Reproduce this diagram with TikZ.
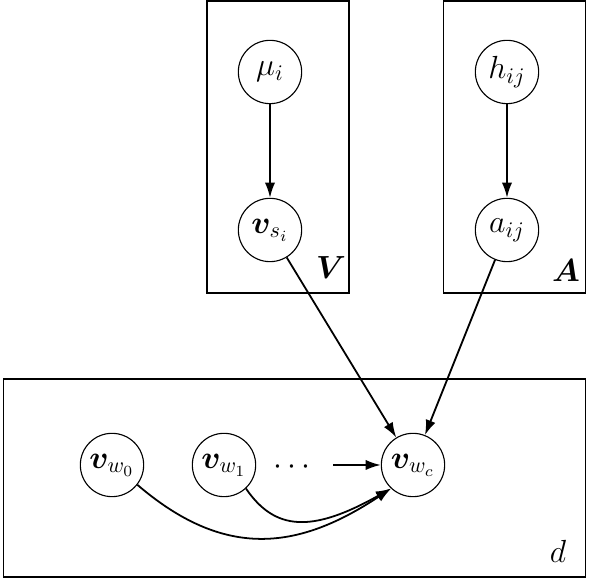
\documentclass[tikz,border=0pt]{standalone}
\usepackage{bm}
\usetikzlibrary{arrows.meta}
\begin{document}
\begin{tikzpicture}[x=0.45pt,y=-0.45pt,
  lbl/.style={font=\fontsize{13.8}{16}\selectfont},
  var/.style={circle,draw,line width=0.5pt,minimum size=28.5pt,inner sep=0pt,lbl},
  plate/.style={draw,line width=0.6pt},
  conn/.style={line width=0.8pt,-{Latex[length=6.8pt,width=4.6pt]}}]
\useasboundingbox (0,0) rectangle (589,579);
\node[plate,minimum width=64pt,minimum height=131.5pt,inner sep=0pt] (pV) at (278,147) {};
\node[plate,minimum width=64pt,minimum height=131.5pt,inner sep=0pt] (pA) at (514.5,147) {};
\node[plate,minimum width=262pt,minimum height=89pt,inner sep=0pt] (pd) at (294.5,478) {};
\node[var] (mu) at (270,72) {$\mu_i$};
\node[var] (vs) at (270,230) {$\bm{v}_{s_i}$};
\node[var] (h) at (507,72) {$h_{ij}$};
\node[var] (a) at (507,230) {$a_{ij}$};
\node[var] (w0) at (112,465) {$\bm{v}_{w_0}$};
\node[var] (w1) at (224,465) {$\bm{v}_{w_1}$};
\node[lbl] (dots) at (292,467) {$\cdots$};
\node[var] (wc) at (413,465) {$\bm{v}_{w_c}$};
\node[lbl] (lV) at (331,268) {$\bm{V}$};
\node[lbl] (lA) at (566,271) {$\bm{A}$};
\node[lbl] (ld) at (558,551) {$d$};
\coordinate (ds) at (333,465);
\draw[conn] (mu) -- (vs);
\draw[conn] (h) -- (a);
\draw[conn] (vs) -- (wc);
\draw[conn] (a) -- (wc);
\draw[conn] (ds) -- (wc);
\draw[conn] (w0.-38) .. controls (224,559) and (297,551) .. (wc.-133);
\draw[conn] (w1.-47) .. controls (275,531) and (312,533) .. (wc.-133);
\end{tikzpicture}
\end{document}
